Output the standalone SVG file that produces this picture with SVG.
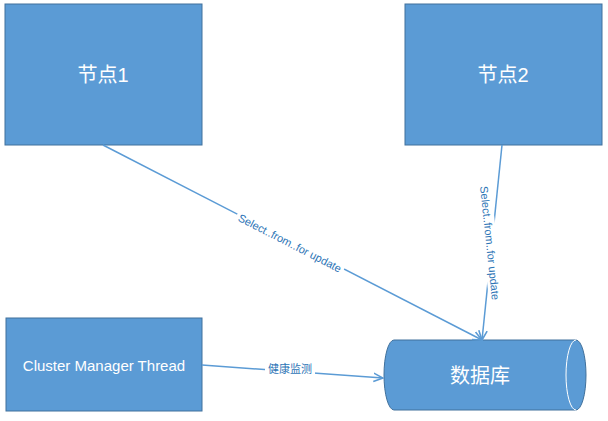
<svg xmlns="http://www.w3.org/2000/svg" width="608" height="421" viewBox="0 0 608 421">
<defs>
<style>
.n{fill:#5b9bd5;stroke:#41719c;stroke-width:1}
.t{fill:#fff;font-family:"Liberation Sans","Noto Sans CJK SC",sans-serif;text-anchor:middle;dominant-baseline:central}
.e{stroke:#5b9bd5;stroke-width:1.5;fill:none;marker-end:url(#a)}
.l{fill:#2e75b6;font-family:"Liberation Sans","Noto Sans CJK SC",sans-serif;font-size:11px;text-anchor:middle}
</style>
<marker id="a" viewBox="0 0 10 10" refX="9" refY="5" markerWidth="7" markerHeight="7" orient="auto"><path d="M0,1 L9,5 L0,9" fill="none" stroke="#5b9bd5" stroke-width="1.5"/></marker>
</defs>
<rect width="608" height="421" fill="#fff"/>
<g id="node1"><rect class="n" x="5" y="4" width="197" height="141"/><text class="t" x="103" y="75" font-size="20">节点1</text></g>
<g id="node2"><rect class="n" x="405" y="4" width="197" height="141"/><text class="t" x="503" y="75" font-size="20">节点2</text></g>
<g id="cluster"><rect class="n" x="6" y="318" width="196" height="93"/><text class="t" x="104" y="365" font-size="15">Cluster Manager Thread</text></g>
<g id="db"><path class="n" d="M394,340 H576 A10,35 0 0 1 576,410 H394 A10,35 0 0 1 394,340 Z"/><path d="M576,340 A10,35 0 0 0 576,410" fill="none" stroke="#fff" stroke-width="1"/><text class="t" x="480" y="376" font-size="20">数据库</text></g>
<g id="edges">
<line class="e" x1="103" y1="145" x2="482" y2="340"/>
<line class="e" x1="502" y1="145" x2="482" y2="340"/>
<line class="e" x1="202" y1="365" x2="383" y2="378"/>
<rect x="230" y="236" width="120" height="14" fill="#fff" transform="rotate(27.2 290 243)"/>
<text class="l" x="290" y="247" transform="rotate(27.2 290 243)">Select..from..for update</text>
<rect x="430" y="236" width="120" height="14" fill="#fff" transform="rotate(84 490 243)"/>
<text class="l" x="490" y="247" transform="rotate(84 490 243)">Select..from..for update</text>
<rect x="265" y="362" width="50" height="14" fill="#fff"/>
<text class="l" x="290" y="373">健康监测</text>
</g>
</svg>
